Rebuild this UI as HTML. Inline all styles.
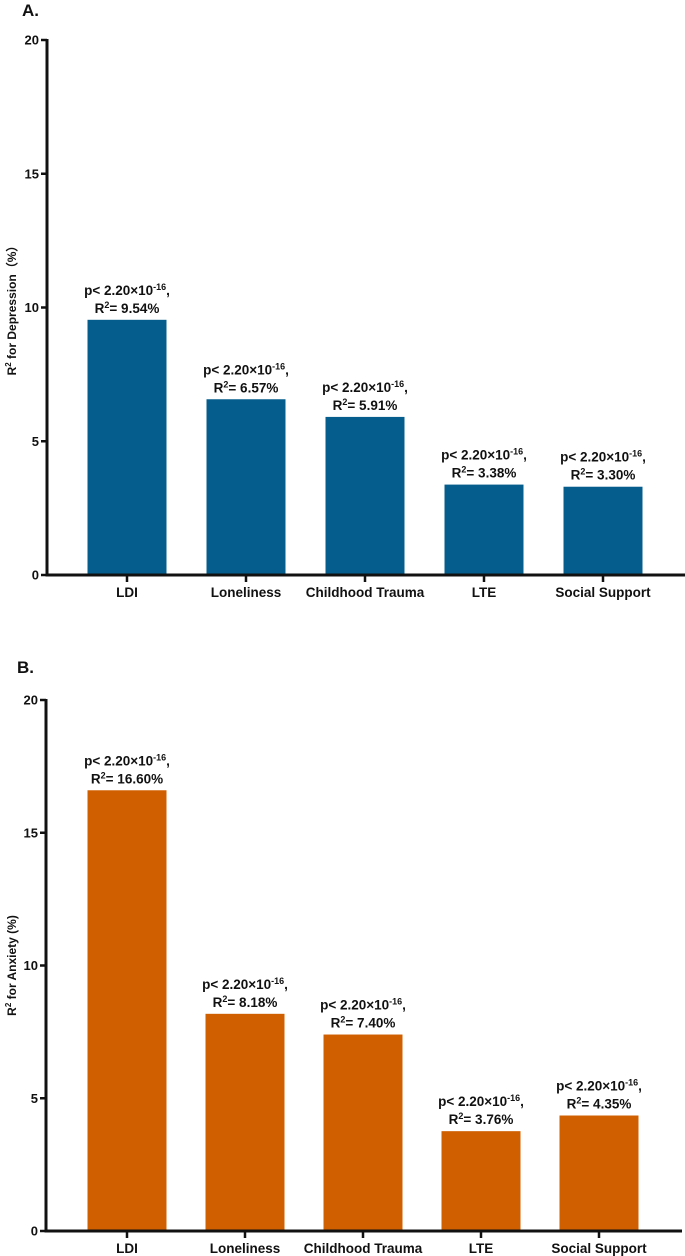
<!DOCTYPE html>
<html><head><meta charset="utf-8"><style>
html,body{margin:0;padding:0;background:#fff;}
svg{display:block;font-family:"Liberation Sans",Arial,sans-serif;font-weight:bold;}
</style></head><body>
<svg id="chart" width="685" height="1256" viewBox="0 0 685 1256" xmlns="http://www.w3.org/2000/svg"></svg>
<script>
const categories = ["LDI","Loneliness","Childhood Trauma","LTE","Social Support"];
const depressionValues = [9.54, 6.57, 5.91, 3.38, 3.30];
const anxietyValues = [16.60, 8.18, 7.40, 3.76, 4.35];
const yTicks = [0,5,10,15,20];
const pLabel = "2.20×10";

const svg = document.getElementById('chart');
const NS = "http://www.w3.org/2000/svg";
function mk(tag, attrs, parent){
  const e = document.createElementNS(NS, tag);
  for (const k in attrs) e.setAttribute(k, attrs[k]);
  (parent||svg).appendChild(e);
  return e;
}

function panel(cfg){
  const g = mk('g', {});
  
  
  const y = v => cfg.y0 + (cfg.y20 - cfg.y0) * v / 20;
  const xc = i => cfg.xFirst + i * cfg.step;
  const title = mk('text', {x: cfg.letterX, y: cfg.letterY, 'font-size': 17, fill:'#111'}, g);
  title.textContent = cfg.letter;
  
  
  cfg.values.forEach((v,i)=>{
    const r = mk('rect', {x: xc(i)-cfg.bw/2, y: y(v), width: cfg.bw, height: y(0)-y(v), fill: cfg.color}, g);
    
    
    const t1 = mk('text', {x: xc(i), y: y(v)-25, 'text-anchor':'middle', 'font-size': 13.5, fill:'#111'}, g);
    t1.innerHTML = 'p&lt; ' + pLabel + '<tspan dy="-5" font-size="9">-16</tspan><tspan dy="5">,</tspan>';
    
    
    const t2 = mk('text', {x: xc(i), y: y(v)-7, 'text-anchor':'middle', 'font-size': 13.5, fill:'#111'}, g);
    t2.innerHTML = 'R<tspan dy="-5" font-size="9">2</tspan><tspan dy="5">= ' + v.toFixed(2) + '%</tspan>';
    
    
    const tk = mk('line', {x1: xc(i), x2: xc(i), y1: y(0), y2: y(0)+7, stroke:'#111', 'stroke-width':2.5}, g);
    
    
    const cl = mk('text', {x: xc(i), y: y(0)+22, 'text-anchor':'middle', 'font-size': 13.5, fill:'#111'}, g);
    cl.textContent = categories[i];
    
    
  });
  const ya = mk('line', {x1: cfg.axisX, x2: cfg.axisX, y1: y(20)-1, y2: y(0)+1, stroke:'#111', 'stroke-width':3}, g);
  
  
  const xa = mk('line', {x1: cfg.axisX-1.5, x2: cfg.xEnd, y1: y(0), y2: y(0), stroke:'#111', 'stroke-width':3}, g);
  
  
  yTicks.forEach(v=>{
    const l = mk('line', {x1: cfg.axisX-6, x2: cfg.axisX, y1: y(v), y2: y(v), stroke:'#111', 'stroke-width':2.5}, g);
    
    
    const t = mk('text', {x: cfg.axisX-8, y: y(v)+4.5, 'text-anchor':'end', 'font-size': 13, fill:'#111'}, g);
    t.textContent = v;
    
    
  });
  const yt = mk('text', {x: 0, y: 0, 'text-anchor':'middle', 'font-size': 12, fill:'#111',
    transform: 'translate(16,' + ((y(0)+y(20))/2) + ') rotate(-90)'}, g);
  yt.innerHTML = 'R<tspan dy="-5" font-size="8">2</tspan><tspan dy="5"> ' + cfg.ytitle + '</tspan>';
  
  
}

panel({name:'panel-a-depression', letter:'A.', letterX:22, letterY:16, values: depressionValues, color:'#055d8d',
  y0:575, y20:40, axisX:47, xEnd:685, xFirst:127, step:119, bw:79, ytitle:'for Depression（%）'});
panel({name:'panel-b-anxiety', letter:'B.', letterX:17, letterY:673, values: anxietyValues, color:'#d05f00',
  y0:1231, y20:700, axisX:46, xEnd:682, xFirst:127, step:118, bw:79, ytitle:'for Anxiety (%)'});
</script>
</body></html>
